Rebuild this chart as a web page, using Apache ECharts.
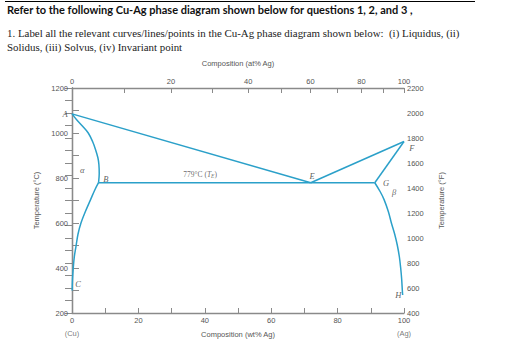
<!DOCTYPE html>
<html><head><meta charset="utf-8">
<script src="https://cdn.jsdelivr.net/npm/echarts@6/dist/echarts.min.js"></script>
<style>html,body{margin:0;padding:0;background:#fff}#c{width:509px;height:353px}</style>
</head><body><div id="c"></div>
<script>
// ---- data (wt% Ag, °C) ----
const liquidusCu = [[0,1085],[71.9,779]];
const liquidusAg = [[71.9,779],[100,962]];
const solidusAlpha = [[0,1085],[1.4,1059],[3.2,1030],[4.9,1000],[6.2,962],[7.1,926],[7.8,890],[8.1,860],[8.2,820],[8.0,779]];
const solvusAlpha = [[8.0,779],[6.9,748],[5.6,704],[4.0,650],[2.7,600],[1.8,550],[1.2,496],[0.7,450],[0.4,404],[0.15,350],[0.05,300]];
const eutectic = [[8.0,779],[91.2,779]];
const solidusBeta = [[91.2,779],[100,962]];
const solvusBeta = [[91.2,779],[92.8,740],[94.0,704],[95.3,650],[96.2,600],[97.2,550],[98.0,500],[98.6,450],[99.0,400],[99.3,350],[99.5,300],[99.6,280]];
const pointLabels = [["A",-2.1,1086],["B",10.2,797],["C",1.8,330],["E",72.3,810],["F",102.4,935],["G",94.6,778],["H",98.3,281]];
const phaseLabels = [["α",3.1,837],["β",97.0,739]];
const eutecticLabel = [["779°C (T_E)",38.6,815]];
const endLabels = [["(Cu)",0,108],["(Ag)",100,108]];
const atTicks = [0,10,20,30,40,50,60,70,80,90,100];
const atLabels = [0,20,40,60,80,100];
const MCu = 63.55, MAg = 107.87;
function atToWt(a){ return a*MAg/(a*MAg+(100-a)*MCu)*100; }
function wtToAt(w){ const x=w/MAg, y=(100-w)/MCu; return x/(x+y)*100; }

const axisColor = '#8a8a8a', txt = '#555', curve = '#2ba0c9';
const axisFont = {color: txt, fontSize: 7.5, fontFamily: 'Liberation Sans'};
const nameFont = {color:txt, fontSize:7.5, fontFamily:'Liberation Sans'};
const chart = echarts.init(document.getElementById('c'), null, {renderer:'svg'});
function lineS(d, smooth){ return {type:'line', data:d, xAxisIndex:0, yAxisIndex:0, symbol:'none', smooth: smooth?0.35:false,
  lineStyle:{color:curve, width:1.5}, animation:false, silent:true}; }
function labelS(d, font){ return {type:'scatter', xAxisIndex:0, yAxisIndex:0, clip:false, symbolSize:0, animation:false, silent:true,
  data:d.map(p=>({value:[p[1],p[2]], name:p[0]})),
  label:{show:true, position:'inside', formatter:p=>font.fmt?font.fmt(p.name):p.name, color:font.color||'#333', fontSize:font.size,
   fontFamily:font.family, fontStyle:font.style||'normal', rich:font.rich||{}}}; }
const every = n => v => (Math.round(v) % n === 0 ? String(Math.round(v)) : '');
const tick = len => ({inside:true, length:len, lineStyle:{color:axisColor}});
const option = {
  animation:false,
  grid:{left:72, right:105, top:88, bottom:40, containLabel:false},
  xAxis:[
    {type:'value', min:0, max:100, interval:10, position:'bottom',
     name:'Composition (wt% Ag)', nameLocation:'middle', nameGap:17, nameTextStyle:nameFont,
     axisLine:{lineStyle:{color:axisColor, width:1.3}}, axisTick:tick(5),
     axisLabel:{...axisFont, margin:3, formatter:every(20)}, splitLine:{show:false}},
    {type:'value', min:0, max:100, position:'top',
     name:'Composition (at% Ag)', nameLocation:'middle', nameGap:21, nameTextStyle:nameFont,
     axisLine:{lineStyle:{color:axisColor, width:1.3}},
     axisTick:{inside:true, length:5, customValues: atTicks.map(atToWt), lineStyle:{color:axisColor}},
     axisLabel:{...axisFont, margin:3, customValues: atLabels.map(atToWt), formatter:v=>String(Math.round(wtToAt(v)))},
     splitLine:{show:false}}
  ],
  yAxis:[
    {type:'value', min:200, max:1200, interval:100, position:'left',
     name:'Temperature (°C)', nameLocation:'middle', nameGap:30, nameRotate:90, nameTextStyle:nameFont,
     axisLine:{lineStyle:{color:axisColor, width:1.3}}, axisTick:tick(7),
     axisLabel:{...axisFont, margin:4, formatter:every(200)}, splitLine:{show:false}},
    {type:'value', min:400, max:2200, interval:100, position:'right',
     name:'Temperature (°F)', nameLocation:'middle', nameGap:33, nameRotate:90, nameTextStyle:nameFont,
     axisLine:{lineStyle:{color:axisColor, width:1.3}}, axisTick:tick(7),
     axisLabel:{...axisFont, margin:3, formatter:every(200)}, splitLine:{show:false}}
  ],
  series:[
    lineS(liquidusCu), lineS(liquidusAg), lineS(solidusAlpha,true), lineS(solvusAlpha,true),
    lineS(eutectic), lineS(solidusBeta), lineS(solvusBeta,true),
    labelS(pointLabels, {size:8.5, family:'Liberation Serif', style:'italic', color:'#333'}),
    labelS(phaseLabels, {size:8.5, family:'Liberation Serif', style:'italic', color:'#333'}),
    labelS(eutecticLabel, {size:7.5, family:'Liberation Serif', color:'#444',
      fmt:s=>'779°C ({i|T}{sub|E})', rich:{i:{fontStyle:'italic', fontSize:7.5, fontFamily:'Liberation Serif', color:'#444'}, sub:{fontStyle:'italic', fontSize:5.5, fontFamily:'Liberation Serif', color:'#444', verticalAlign:'bottom', padding:[3,0,0,0]}}}),
    labelS(endLabels, {size:7.5, family:'Liberation Sans', color:txt})
  ],
  graphic:[
    {type:'line', shape:{x1:5, y1:1.5, x2:475, y2:1.5}, style:{stroke:'#000', lineWidth:1}},
    {type:'text', x:7, y:4, style:{text:'Refer to the following Cu-Ag phase diagram shown below for questions 1, 2, and 3 ,', font:'bold 11px Lato', fill:'#111'}},
    {type:'text', x:7, y:27, style:{text:'1. Label all the relevant curves/lines/points in the Cu-Ag phase diagram shown below:  (i) Liquidus, (ii)', font:'10.9px "Liberation Serif"', fill:'#222'}},
    {type:'text', x:7, y:41, style:{text:'Solidus, (iii) Solvus, (iv) Invariant point', font:'10.9px "Liberation Serif"', fill:'#222'}}
  ]
};
chart.setOption(option);
</script></body></html>
